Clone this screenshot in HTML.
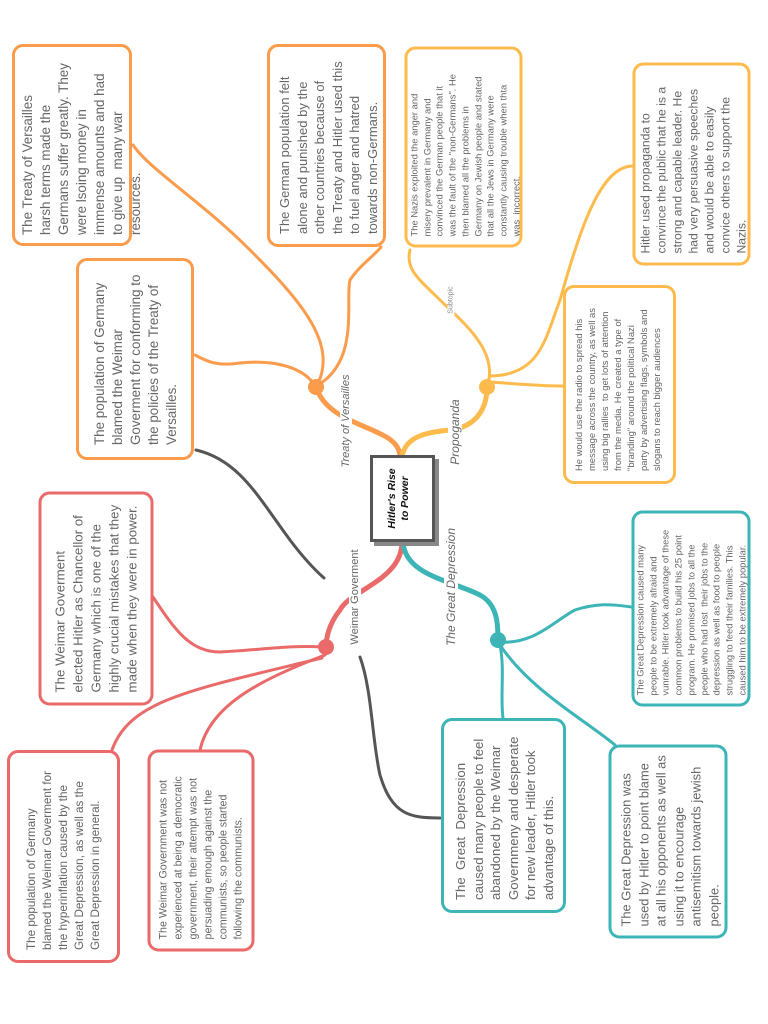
<!DOCTYPE html>
<html><head><meta charset="utf-8"><style>
html,body{margin:0;padding:0;background:#fff;}
#c{position:relative;width:768px;height:1024px;overflow:hidden;background:#fff;font-family:"Liberation Sans",sans-serif;}
.b{position:absolute;box-sizing:border-box;border:3px solid;border-radius:11px;background:#fff;transform:rotate(-90deg);color:#666;white-space:nowrap;padding:6px 9px;}
.o{border-color:#fb9b4c}.y{border-color:#fdbb4d}.r{border-color:#ea6a6a}.t{border-color:#3db5b6}
.l{position:absolute;transform:translate(-50%,-50%) rotate(-90deg);white-space:nowrap;color:#666;background:#fff;padding:0 3px;}
svg{position:absolute;left:0;top:0;}
</style></head><body><div id="c">
<svg width="768" height="1024" fill="none" stroke-linecap="round">
<g stroke="#fb9b4c" stroke-width="3">
<path d="M400,457 C400,425 330,430 316,387" stroke-width="5"/>
<path d="M316,387 C340,345 300,300 250,250 S150,170 133,145"/>
<path d="M318,385 C360,360 345,300 350,280 C360,265 375,255 381,247"/>
<path d="M314,384 C300,365 270,360 240,363 C215,367 205,360 195,355"/>
<circle cx="316" cy="387" r="8" fill="#fb9b4c" stroke="none"/>
</g>
<g stroke="#fdbb4d" stroke-width="3">
<path d="M402,457 C405,435 430,432 450,430 C475,427 487,410 487,387" stroke-width="5"/>
<path d="M487,387 C500,350 460,320 440,300 C420,280 405,270 410,250"/>
<path d="M490,376 C540,375 545,340 560,300 C580,230 600,166 633,166"/>
<path d="M490,382 C520,384 540,386 563,386"/>
<circle cx="487" cy="387" r="8" fill="#fdbb4d" stroke="none"/>
</g>
<g stroke="#ea6a6a" stroke-width="3">
<path d="M402,542 C402,580 350,590 340,610 C328,625 326,640 326,647" stroke-width="5"/>
<path d="M153,597 C175,630 190,652 220,652 C260,650 290,645 322,647"/>
<path d="M112,750 C130,700 190,690 322,658"/>
<path d="M200,750 C210,705 260,680 325,655"/>
<circle cx="326" cy="647" r="8" fill="#ea6a6a" stroke="none"/>
</g>
<g stroke="#3db5b6" stroke-width="3">
<path d="M403,542 C405,575 450,580 480,595 C498,605 498,625 498,640" stroke-width="5"/>
<path d="M498,642 C535,645 555,620 575,610 C600,602 615,605 632,607"/>
<path d="M500,645 C505,670 500,695 503,718"/>
<path d="M500,645 C530,690 585,720 615,745"/>
<circle cx="498" cy="640" r="8" fill="#3db5b6" stroke="none"/>
</g>
<g stroke="#555" stroke-width="3">
<path d="M196,450 C240,460 260,500 290,540 C305,560 315,570 324,578"/>
<path d="M360,657 C372,690 372,740 380,775 C392,815 410,818 440,818"/>
</g>
</svg>
<div class="l" style="left:346px;top:421px;font-size:11px;font-style:italic;">Treaty of Versailles</div>
<div class="l" style="left:455px;top:432px;font-size:12px;font-style:italic;">Propoganda</div>
<div class="l" style="left:451px;top:300px;font-size:7px;color:#888;">Subtopic</div>
<div class="l" style="left:355px;top:597px;font-size:11px;">Weimar Goverment</div>
<div class="l" style="left:451px;top:587px;font-size:12px;font-style:italic;">The Great Depression</div>

<div class="b" style="left:359px;top:466px;width:87px;height:65px;border-color:#555;border-radius:0;box-shadow:-4px 4px 0 #888;padding:13px 4px;text-align:center;color:#111;font-size:10.5px;font-weight:bold;font-style:italic;line-height:13px;">Hitler's Rise<br>to Power</div>

<div class="b o" style="left:-29px;top:85px;width:202px;height:120px;font-size:13.4px;line-height:18px;padding:4px 8px;">The Treaty of Versailles<br>harsh terms made the<br>Germans suffer greatly. They<br>were lsoing money in<br>immense amounts and had<br>to give up&nbsp; many war<br>resources.</div>
<div class="b o" style="left:225px;top:86px;width:203px;height:119px;font-size:13px;line-height:17.5px;padding:6px 10px;">The German population felt<br>alone and punished by the<br>other countries because of<br>the Treaty and Hitler used this<br>to fuel anger and hatred<br>towards non-Germans.</div>
<div class="b o" style="left:34px;top:300px;width:202px;height:118px;font-size:13.4px;line-height:18px;padding:12px 12px;">The population of Germany<br>blamed the Weimar<br>Goverment for conforming to<br>the policies of the Treaty of<br>Versailles.</div>
<div class="b y" style="left:363px;top:88px;width:201px;height:118px;font-size:9.4px;line-height:12.7px;padding:1px 8px;">The Nazis exploited the anger and<br>misery prevalent in Germany and<br>convinced the German people that it<br>was the fault of the "non-Germans". He<br>then blamed all the problems in<br>Germany on Jewish people and stated<br>that all the Jews in Germany were<br>constantly causing trouble when thta<br>was&nbsp; incorrect.</div>
<div class="b y" style="left:590px;top:105px;width:203px;height:118px;font-size:12.2px;line-height:16px;padding:2px 9px;">Hitler used propaganda to<br>convince the public that he is a<br>strong and capable leader. He<br>had very persuasive speeches<br>and would be able to easily<br>convice others to support the<br>Nazis.</div>
<div class="b y" style="left:520px;top:328px;width:199px;height:113px;font-size:9.4px;line-height:13px;padding:6px 10px;">He would use the radio to spread his<br>message across the country, as well as<br>using big rallies&nbsp; to get lots of attention<br>from the media. He created a type of<br>"branding" around the political Nazi<br>party by advertising flags, symbols and<br>slogans to reach bigger audiences</div>
<div class="b r" style="left:-11px;top:541px;width:214px;height:115px;font-size:13.3px;line-height:18px;padding:10px 10px;">The Weimar Goverment<br>elected Hitler as Chancellor of<br>Germany which is one of the<br>highly crucial mistakes that they<br>made when they were in power.</div>
<div class="b r" style="left:-43px;top:800px;width:213px;height:113px;font-size:11.7px;line-height:16px;padding:14px 10px;">The population of Germany<br>blamed the Weimar Goverment for<br>the hyperinflation caused by the<br>Great Depression, as well as the<br>Great Depression in general.</div>
<div class="b r" style="left:100px;top:797px;width:202px;height:107px;font-size:10.7px;line-height:15px;padding:6px 9px;">The Weimar Government was not<br>experienced at being a democratic<br>government, their attempt was not<br>persuading emough against the<br>communists, so people started<br>following the communists.</div>
<div class="b t" style="left:593px;top:549px;width:196px;height:119px;font-size:9.4px;line-height:12.7px;padding:0px 8px;">The Great Depression caused many<br>people to be extremely afraid and<br>vunrable. Hitler took advantage of these<br>common problems to build his 25 point<br>program. He promised jobs to all the<br>people who had lost&nbsp; their jobs to the<br>depression as well as food to people<br>struggling to feed their families. This<br>caused him to be extremely popular.</div>
<div class="b t" style="left:406px;top:753px;width:195px;height:125px;font-size:13.2px;line-height:17.5px;padding:8px 10px;">The&nbsp; Great&nbsp; Depression<br>caused many people to feel<br>abandoned by the Weimar<br>Governmeny and desperate<br>for new leader, Hitler took<br>advantage of this.</div>
<div class="b t" style="left:571px;top:782px;width:194px;height:119px;font-size:12.9px;line-height:17.5px;padding:6px 9px;">The Great Depression was<br>used by Hitler to point blame<br>at all his opponents as well as<br>using it to encourage<br>antisemitism towards jewish<br>people.</div>
</div></body></html>
